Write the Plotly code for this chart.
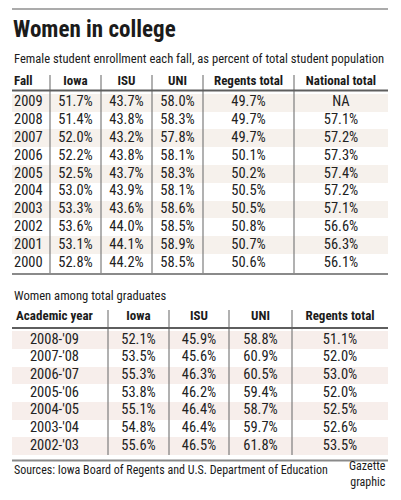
import plotly.graph_objects as go

# enrollment each fall, percent women
fall_years = ['2009', '2008', '2007', '2006', '2005', '2004', '2003', '2002', '2001', '2000']
fall_iowa = [51.7, 51.4, 52.0, 52.2, 52.5, 53.0, 53.3, 53.6, 53.1, 52.8]
fall_isu = [43.7, 43.8, 43.2, 43.8, 43.7, 43.9, 43.6, 44.0, 44.1, 44.2]
fall_uni = [58.0, 58.3, 57.8, 58.1, 58.3, 58.1, 58.6, 58.5, 58.9, 58.5]
fall_regents = [49.7, 49.7, 49.7, 50.1, 50.2, 50.5, 50.5, 50.8, 50.7, 50.6]
fall_national = [None, 57.1, 57.2, 57.3, 57.4, 57.2, 57.1, 56.6, 56.3, 56.1]
fall_headers = ['Fall', 'Iowa', 'ISU', 'UNI', 'Regents total', 'National total']

# women among graduates
grad_years = ["2008-'09", "2007-'08", "2006-'07", "2005-'06", "2004-'05", "2003-'04", "2002-'03"]
grad_iowa = [52.1, 53.5, 55.3, 53.8, 55.1, 54.8, 55.6]
grad_isu = [45.9, 45.6, 46.3, 46.2, 46.4, 46.4, 46.5]
grad_uni = [58.8, 60.9, 60.5, 59.4, 58.7, 59.7, 61.8]
grad_regents = [51.1, 52.0, 53.0, 52.0, 52.5, 52.6, 53.5]
grad_headers = ['Academic year', 'Iowa', 'ISU', 'UNI', 'Regents total']

FONT = 'Roboto Condensed'
INK = '#1b1b1b'
# the page body has an 8px margin, so the axes run in page pixels from 8 on
PAD = 8
W, H = 401, 500
LEFT, RIGHT = 12, 388


def pct(values):
    return ['NA' if v is None else f'{v:.1f}%' for v in values]


def add_table(fig, headers, columns, edges, header_y, row0_y, row_h, line_top, underline_y,
              bottom_y, line_bottom, shade, first_x=None, first_center=None):
    n_rows = len(columns[0])
    row_y = [row0_y + i * row_h for i in range(n_rows)]
    # alternate row shading
    shaded = [y for i, y in enumerate(row_y) if i % 2 == 0]
    fig.add_trace(go.Bar(y=shaded, x=[RIGHT - LEFT] * len(shaded), base=LEFT, orientation='h',
                         width=row_h, marker=dict(color=shade, line=dict(width=0)),
                         hoverinfo='skip', showlegend=False))
    for j, (head, col) in enumerate(zip(headers, columns)):
        x, pos = (edges[j] + edges[j + 1]) / 2, 'middle center'
        if j == 0 and first_x is not None:
            x, pos = first_x, 'middle right'
        elif j == 0 and first_center is not None:
            x = first_center
        fig.add_trace(go.Scatter(x=[x], y=[header_y], mode='text', text=[f'<b>{head}</b>'],
                                 textposition=pos, textfont=dict(family=FONT, size=13, color=INK),
                                 hoverinfo='skip', showlegend=False))
        fig.add_trace(go.Scatter(x=[x] * n_rows, y=row_y, mode='text', text=col,
                                 textposition=pos, textfont=dict(family=FONT, size=14.5, color='#222'),
                                 hoverinfo='skip', showlegend=False))
    for e in edges[1:-1]:
        fig.add_shape(type='line', x0=e, x1=e, y0=line_top, y1=line_bottom,
                      line=dict(color='#7d7d7d', width=1.2), layer='above')
    fig.add_shape(type='line', x0=LEFT, x1=RIGHT, y0=underline_y, y1=underline_y,
                  line=dict(color='#5e5e5e', width=2), layer='above')
    fig.add_shape(type='line', x0=LEFT, x1=RIGHT, y0=bottom_y, y1=bottom_y,
                  line=dict(color='#8a8a8a', width=2), layer='above')


fig = go.Figure()

add_table(fig, fall_headers,
          [fall_years, pct(fall_iowa), pct(fall_isu), pct(fall_uni), pct(fall_regents), pct(fall_national)],
          edges=[LEFT, 50, 101, 152, 203, 294, RIGHT], header_y=82, row0_y=102.7, row_h=17.8,
          line_top=75, underline_y=90.5, bottom_y=274, line_bottom=274, shade='#f6f1ec', first_x=14)

add_table(fig, grad_headers,
          [grad_years, pct(grad_iowa), pct(grad_isu), pct(grad_uni), pct(grad_regents)],
          edges=[LEFT, 108, 169, 229, 292, RIGHT], header_y=316.7, row0_y=340, row_h=17.7,
          line_top=310, underline_y=328, bottom_y=460.5, line_bottom=455, shade='#f7eeeb',
          first_center=54.5)

# top rule
fig.add_shape(type='line', x0=LEFT, x1=RIGHT, y0=9, y1=9, line=dict(color='#8f8f8f', width=1.5))

texts = [
    dict(x=LEFT - 1, y=29, text='<b>Women in college</b>', size=23, anchor='left'),
    dict(x=LEFT, y=58.5, text='Female student enrollment each fall, as percent of total student population',
         size=12.6, anchor='left'),
    dict(x=LEFT, y=295, text='Women among total graduates', size=12.6, anchor='left'),
    dict(x=LEFT, y=470, text='Sources: Iowa Board of Regents and U.S. Department of Education', size=12,
         anchor='left'),
    dict(x=RIGHT, y=474, text='Gazette<br>graphic', size=12, anchor='right'),
]
for t in texts:
    fig.add_annotation(x=t['x'], y=t['y'], text=t['text'], showarrow=False, xanchor=t['anchor'],
                       yanchor='middle', align=t['anchor'],
                       font=dict(family=FONT, size=t['size'], color=INK))

fig.update_xaxes(range=[PAD, W], visible=False, fixedrange=True)
fig.update_yaxes(range=[H, PAD], visible=False, fixedrange=True)
fig.update_layout(width=W - PAD, height=H - PAD, margin=dict(l=0, r=0, t=0, b=0),
                  paper_bgcolor='white', plot_bgcolor='white', bargap=0, showlegend=False)

fig.write_html('out.html', config={'displayModeBar': False})
